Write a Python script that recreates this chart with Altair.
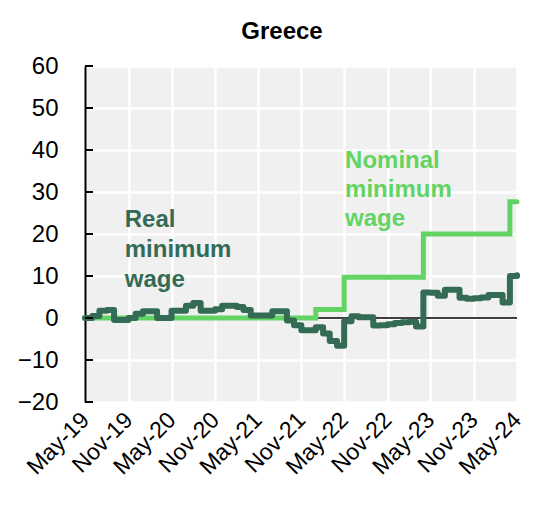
import altair as alt
import pandas as pd

# ---- data ----
months = [d.strftime("%Y-%m-%d") for d in pd.date_range("2019-05-01", "2024-05-01", freq="MS")]
real_wage = [
    0.0, 0.5, 1.7, 1.9, -0.5, -0.5, 0.0, 1.0, 1.6, 1.6,
    0.0, 0.0, 1.7, 1.7, 2.9, 3.6, 1.7, 1.7, 2.1, 2.9,
    2.9, 2.6, 1.9, 0.6, 0.6, 0.6, 1.6, 1.6, -0.6, -1.7,
    -2.9, -2.9, -2.2, -3.7, -5.5, -6.6, -0.8, 0.4, 0.2, 0.2,
    -1.8, -1.7, -1.5, -1.2, -1.0, -0.9, -2.0, 6.1, 6.0, 5.3,
    6.7, 6.7, 4.8, 4.6, 4.7, 4.9, 5.5, 5.5, 3.7, 10.0,
    10.2,
]
nominal_dates = ["2019-05-01", "2022-01-01", "2022-05-01", "2023-04-01", "2024-04-01", "2024-05-01"]
nominal_wage = [0.0, 2.0, 9.7, 20.0, 27.7, 27.7]

y_ticks = [-20, -10, 0, 10, 20, 30, 40, 50, 60]
x_tick_dates = [(2019, 5), (2019, 11), (2020, 5), (2020, 11), (2021, 5), (2021, 11),
                (2022, 5), (2022, 11), (2023, 5), (2023, 11), (2024, 5)]

real_label = ["Real", "minimum", "wage"]
real_label_y = [21.7, 14.6, 7.5]
real_label_date = "2019-10-16"
nominal_label = ["Nominal", "minimum", "wage"]
nominal_label_y = [35.7, 28.9, 22.0]
nominal_label_date = "2022-05-05"

DARK = "#346b55"
LIGHT = "#63d463"
FONT = "Liberation Sans"

real_df = pd.DataFrame({"date": months, "value": real_wage})
nom_df = pd.DataFrame({"date": nominal_dates, "value": nominal_wage})
tick_df = pd.DataFrame({"v": y_ticks})
lab_df = pd.DataFrame({
    "date": [real_label_date] * 3 + [nominal_label_date] * 3,
    "value": real_label_y + nominal_label_y,
    "text": real_label + nominal_label,
    "series": ["real"] * 3 + ["nominal"] * 3,
})

x_values = [alt.DateTime(year=y, month=m, date=1, utc=True) for y, m in x_tick_dates]
x_scale = alt.Scale(type="utc",
                    domain=[alt.DateTime(year=2019, month=5, date=1, utc=True),
                            alt.DateTime(year=2024, month=5, date=1, utc=True)])
y_scale = alt.Scale(domain=[-20, 60], nice=False)

x_axis = alt.Axis(values=x_values, format="%b-%y", title=None, grid=True,
                  gridColor="white", gridWidth=2.5, domain=False, ticks=False, tickSize=0,
                  labelAngle=315, labelAlign="right", labelBaseline="middle",
                  labelPadding=14, labelFontSize=23, labelColor="black",
                  labelOverlap=False, labelFlush=False, labelFont=FONT)
y_axis = alt.Axis(values=y_ticks, title=None, grid=True, gridColor="white", gridWidth=2.5,
                  domain=True, domainColor="black", domainWidth=2, ticks=False, tickSize=0,
                  labelPadding=27, labelFontSize=24, labelColor="black", labelFont=FONT)

base_x = alt.X("date:T", scale=x_scale, axis=x_axis)

zero = alt.Chart(pd.DataFrame({"z": [0]})).mark_rule(color="black", strokeWidth=1.5).encode(
    y=alt.Y("z:Q", scale=y_scale, axis=y_axis)
)

nominal = alt.Chart(nom_df).mark_line(color=LIGHT, strokeWidth=5, interpolate="step-after",
                                      strokeCap="round").encode(
    x=base_x, y=alt.Y("value:Q", scale=y_scale)
)

real = alt.Chart(real_df).mark_line(color=DARK, strokeWidth=6, interpolate="step-after",
                                    strokeCap="round", strokeJoin="round").encode(
    x=alt.X("date:T", scale=x_scale), y=alt.Y("value:Q", scale=y_scale)
)

ticks = alt.Chart(tick_df).mark_rule(color="black", strokeWidth=2).encode(
    y=alt.Y("v:Q", scale=y_scale), x=alt.value(0), x2=alt.value(8)
)

labels = alt.Chart(lab_df).mark_text(align="left", baseline="alphabetic", fontSize=24,
                                     fontWeight="bold", font=FONT).encode(
    x=alt.X("date:T", scale=x_scale),
    y=alt.Y("value:Q", scale=y_scale),
    text="text:N",
    color=alt.Color("series:N", scale=alt.Scale(domain=["real", "nominal"], range=[DARK, LIGHT]),
                    legend=None),
)

chart = alt.layer(zero, nominal, real, ticks, labels).properties(
    width=432, height=336,
    title=alt.TitleParams("Greece", fontSize=24, fontWeight="bold", font=FONT, color="black",
                          anchor="middle", frame="group", dx=-19, offset=10),
    autosize=alt.AutoSizeParams(type="none"),
    padding={"left": 77, "top": 58, "right": 25, "bottom": 100},
).configure(font=FONT).configure_view(fill="#f0f0f0", strokeWidth=0)

chart.save("out.html", embed_options={"renderer": "svg", "actions": False})
